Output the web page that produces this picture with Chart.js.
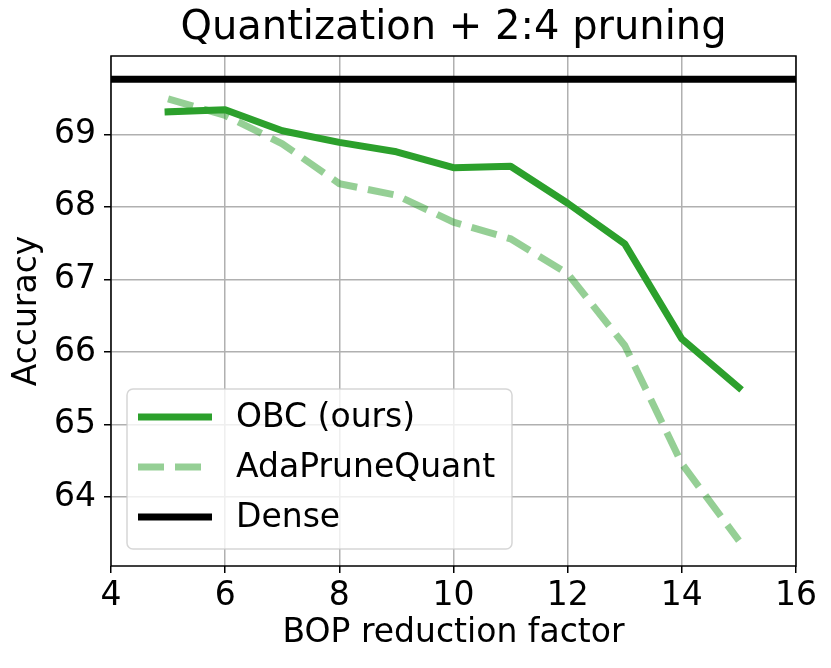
<!DOCTYPE html>
<html>
<head>
<meta charset="utf-8">
<script src="https://cdn.jsdelivr.net/npm/chart.js@4.4.0/dist/chart.umd.min.js"></script>
<style>
  html, body { margin: 0; padding: 0; background: #fff; }
</style>
</head>
<body>
<canvas id="chart" width="831" height="668"></canvas>
<script>
// Data
const bopFactors = [5, 6, 7, 8, 9, 10, 11, 12, 13, 14, 15];
const obcAcc = [69.31, 69.34, 69.05, 68.89, 68.76, 68.54, 68.56, 68.05, 67.49, 66.18, 65.51];
const adaAcc = [69.49, 69.26, 68.87, 68.32, 68.16, 67.79, 67.56, 67.08, 66.09, 64.46, 63.40];
const denseAcc = 69.76;
const xRange = [4, 16];
const yRange = [63.05, 70.08];
const xTicks = [4, 6, 8, 10, 12, 14, 16];
const yTicks = [64, 65, 66, 67, 68, 69];

const FONT = "'DejaVu Sans', sans-serif";
const GREEN = '#2ca02c';
const GREEN_LIGHT = 'rgba(44,160,44,0.5)';

const toPoints = (xs, ys) => xs.map((x, i) => ({ x, y: ys[i] }));

// closed frame around the plot area (matplotlib spines)
const framePlugin = {
  id: 'frame',
  afterDatasetsDraw(chart) {
    const { ctx, chartArea: a } = chart;
    ctx.save();
    ctx.strokeStyle = '#000';
    ctx.lineWidth = 1.5;
    ctx.strokeRect(a.left, a.top, a.right - a.left, a.bottom - a.top);
    ctx.restore();
  },
};

// legend box inside the lower left corner
const insideLegend = {
  id: 'insideLegend',
  afterDraw(chart) {
    const { ctx, chartArea: a } = chart;
    const sets = chart.data.datasets;
    const boxX = a.left + 16, boxW = 385, boxH = 160;
    const boxY = a.bottom - 17 - boxH;
    ctx.save();
    ctx.beginPath();
    ctx.roundRect(boxX, boxY, boxW, boxH, 6);
    ctx.fillStyle = 'rgba(255,255,255,0.8)';
    ctx.fill();
    ctx.strokeStyle = 'rgba(204,204,204,0.8)';
    ctx.lineWidth = 1.5;
    ctx.stroke();
    ctx.font = '33px ' + FONT;
    ctx.textBaseline = 'middle';
    ctx.fillStyle = '#000';
    sets.forEach((ds, i) => {
      const y = boxY + 28 + i * 50;
      ctx.beginPath();
      ctx.setLineDash(ds.borderDash || []);
      ctx.strokeStyle = ds.borderColor;
      ctx.lineWidth = ds.borderWidth;
      ctx.moveTo(boxX + 11, y);
      ctx.lineTo(boxX + 85, y);
      ctx.stroke();
      ctx.setLineDash([]);
      ctx.fillText(ds.label, boxX + 109, y + 1);
    });
    ctx.restore();
  },
};

Chart.defaults.color = '#000';
Chart.defaults.font.family = FONT;

new Chart(document.getElementById('chart'), {
  type: 'line',
  data: {
    datasets: [
      {
        label: 'OBC (ours)',
        data: toPoints(bopFactors, obcAcc),
        borderColor: GREEN,
        borderWidth: 7,
        borderJoinStyle: 'round',
        borderCapStyle: 'square',
        pointRadius: 0,
        tension: 0,
      },
      {
        label: 'AdaPruneQuant',
        data: toPoints(bopFactors, adaAcc),
        borderColor: GREEN_LIGHT,
        borderWidth: 7,
        borderDash: [26, 11],
        borderCapStyle: 'butt',
        pointRadius: 0,
        tension: 0,
      },
      {
        label: 'Dense',
        data: toPoints(xRange, [denseAcc, denseAcc]),
        borderColor: '#000',
        borderWidth: 7,
        pointRadius: 0,
        tension: 0,
      },
    ],
  },
  options: {
    responsive: false,
    animation: false,
    layout: { padding: { left: 0, right: 35, top: 0, bottom: 0 } },
    plugins: {
      legend: { display: false },
      tooltip: { enabled: false },
      title: {
        display: true,
        fullSize: false,
        text: 'Quantization + 2:4 pruning',
        font: { size: 40, weight: 'normal' },
        color: '#000',
        padding: { top: 5, bottom: 3 },
      },
    },
    scales: {
      x: {
        type: 'linear',
        min: xRange[0],
        max: xRange[1],
        afterBuildTicks: (s) => { s.ticks = xTicks.map((v) => ({ value: v })); },
        afterFit: (s) => { s.height = 102; },
        border: { display: false },
        grid: { color: '#b0b0b0', lineWidth: 1.5, tickColor: '#000', tickLength: 7, tickWidth: 1.5 },
        ticks: { font: { size: 33 }, padding: 4, maxRotation: 0 },
        title: {
          display: true,
          text: 'BOP reduction factor',
          font: { size: 33 },
          padding: { top: 0, bottom: 15 },
        },
      },
      y: {
        min: yRange[0],
        max: yRange[1],
        afterBuildTicks: (s) => { s.ticks = yTicks.map((v) => ({ value: v })); },
        afterFit: (s) => { s.width = 111; },
        border: { display: false },
        grid: { color: '#b0b0b0', lineWidth: 1.5, tickColor: '#000', tickLength: 7, tickWidth: 1.5 },
        ticks: { font: { size: 33 }, padding: 8 },
        title: {
          display: true,
          text: 'Accuracy',
          font: { size: 33 },
          padding: { top: 8, bottom: 0 },
        },
      },
    },
  },
  plugins: [framePlugin, insideLegend],
});
</script>
</body>
</html>
